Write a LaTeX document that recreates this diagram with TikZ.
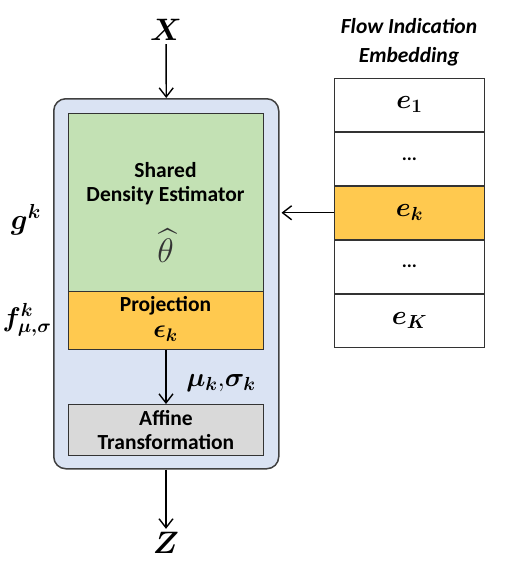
\RequirePackage{fix-cm}
\documentclass[tikz,border=0pt]{standalone}
\usepackage{amsmath,amssymb}
\usepackage{bm}
\usepackage{fontspec}
\setmainfont{Carlito}
\usepackage{tikz}
\usetikzlibrary{arrows.meta,positioning}

\definecolor{flowblue}{HTML}{DAE3F3}
\definecolor{densgreen}{HTML}{C3E1B4}
\definecolor{projorange}{HTML}{FFC94F}
\definecolor{affgray}{HTML}{D9D9D9}

\begin{document}
\begin{tikzpicture}[x=1pt,y=-1pt,
    box/.style={draw=black!80, line width=0.9pt, inner sep=0pt, anchor=north west, minimum width=195pt},
    cell/.style={draw=black!80, line width=0.9pt, inner sep=0pt, minimum width=150pt, minimum height=53pt, fill=white, font=\fontsize{27}{30}\selectfont},
    lbl/.style={font=\fontsize{21.5}{24}\selectfont\bfseries, align=center},
    mlbl/.style={font=\fontsize{29}{34}\selectfont},
    arr/.style={-{Straight Barb[length=9pt,width=14pt]}, line width=1.4pt}]
        \useasboundingbox (0,0) rectangle (518,574);

        % Draw the flow block
        \node[draw=black!75, line width=1.5pt, rounded corners=12pt, fill=flowblue, inner sep=0pt, anchor=north west,
              minimum width=225pt, minimum height=370pt] (flow) at (53,98) {};
        \node[box, fill=densgreen, minimum height=178pt] (dens) at (68,113) {};
        \node[box, fill=projorange, minimum height=58pt] (proj) at (68,291) {};
        \node[box, fill=affgray, minimum height=51pt, lbl] (aff) at (68,404) {Affine\\Transformation};

        % Label the blocks
        \node[lbl] (denstxt) at (165.5,184) {Shared\\Density Estimator};
        \node[font=\fontsize{34}{38}\selectfont, text=black!80, inner sep=0pt] (theta) at (165.5,246) {$\widehat{\theta}$};
        \node[lbl] (projtxt) at (165.5,306) {Projection};
        \node[font=\fontsize{26}{30}\selectfont, inner sep=0pt] (eps) at (165.5,334) {$\bm{\epsilon_k}$};

        % Draw the embedding table
        \node[lbl, font=\fontsize{21.5}{29}\selectfont\bfseries\itshape] (title) at (409,42) {Flow Indication\\Embedding};
        \node[cell, anchor=north west] (e1) at (334,78) {$\bm{e_1}$};
        \node[cell, below=0pt of e1] (d1) {\bfseries\fontsize{19}{20}\selectfont ...};
        \node[cell, below=0pt of d1, fill=projorange] (ek) {$\bm{e_k}$};
        \node[cell, below=0pt of ek] (d2) {\bfseries\fontsize{19}{20}\selectfont ...};
        \node[cell, below=0pt of d2] (eK) {$\bm{e_K}$};

        % Inputs, outputs and side labels
        \node[mlbl, font=\fontsize{31}{34}\selectfont] (X) at (166,30) {$\bm{X}$};
        \node[mlbl, font=\fontsize{31}{34}\selectfont] (Z) at (166,543) {$\bm{Z}$};
        \node[mlbl, inner sep=0pt] (g) at (26,220) {$\bm{g^k}$};
        \node[mlbl, font=\fontsize{27}{32}\selectfont, inner sep=0pt] (f) at (27,320) {$\bm{f^k_{\mu,\sigma}}$};
        \node[font=\fontsize{27}{30}\selectfont, inner sep=0pt] (mu) at (221,383) {$\bm{\mu_k},\!\bm{\sigma_k}$};

        % Draw the arrows
        \draw[arr] (X) -- (flow.north);
        \draw[arr] (proj.south -| X) -- (aff.north -| X);
        \draw[arr] (flow.south -| X) -- (Z);
        \draw[arr, shorten >=2pt] (ek.west) -- (flow.east |- ek.west);
    \end{tikzpicture}
\end{document}
